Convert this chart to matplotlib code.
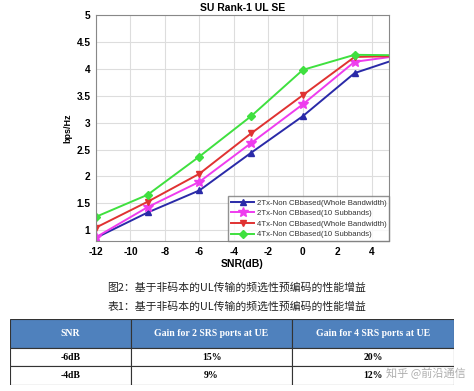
import matplotlib.pyplot as plt
from matplotlib.patches import Rectangle

plt.rcParams["axes.unicode_minus"] = False

# chart data
snr = [-12, -9, -6, -3, 0, 3, 6]
tx2_whole = [0.86, 1.33, 1.74, 2.44, 3.12, 3.92, 4.24]
tx2_sub10 = [0.87, 1.43, 1.90, 2.62, 3.34, 4.13, 4.26]
tx4_whole = [1.05, 1.53, 2.05, 2.80, 3.51, 4.22, 4.24]
tx4_sub10 = [1.25, 1.66, 2.37, 3.12, 3.98, 4.26, 4.25]
labels = ["2Tx-Non CBbased(Whole Bandwidth)", "2Tx-Non CBbased(10 Subbands)",
          "4Tx-Non CBbased(Whole Bandwidth)", "4Tx-Non CBbased(10 Subbands)"]
xticks = [-12, -10, -8, -6, -4, -2, 0, 2, 4]
yticks = [1, 1.5, 2, 2.5, 3, 3.5, 4, 4.5, 5]

# captions and table
caption_fig = "图2：基于非码本的UL传输的频选性预编码的性能增益"
caption_tab = "表1：基于非码本的UL传输的频选性预编码的性能增益"
tab_header = ["SNR", "Gain for 2 SRS ports at UE", "Gain for 4 SRS ports at UE"]
tab_rows = [["-6dB", "15%", "20%"],
            ["-4dB", "9%", "12%"]]

fig = plt.figure(figsize=(4.74, 3.91), dpi=100)
ax = fig.add_axes([96 / 474, 1 - 241 / 391, 293 / 474, 226 / 391])

series = [tx2_whole, tx2_sub10, tx4_whole, tx4_sub10]
colors = ["#2a2aa8", "#ee3cee", "#e03232", "#3fe03f"]
markers = ["^", "*", "v", "D"]
msizes = [5, 7, 5, 4.5]
for ys, c, m, ms, lab in zip(series, colors, markers, msizes, labels):
    ax.plot(snr, ys, color=c, marker=m, markersize=ms, linewidth=1.4, label=lab)

ax.set_xlim(-12, 5)
ax.set_ylim(0.8, 5)
ax.set_xticks(xticks)
ax.set_yticks(yticks)
ax.set_yticklabels(["1", "1.5", "2", "2.5", "3", "3.5", "4", "4.5", "5"])
ax.grid(True, color="#dddddd", linewidth=0.8)
ax.tick_params(length=0, labelsize=7.3, pad=4)
for t in ax.get_xticklabels() + ax.get_yticklabels():
    t.set_fontweight("bold")
    t.set_family("Liberation Sans")
for s in ax.spines.values():
    s.set_color("#888888")
ax.set_title("SU Rank-1 UL SE", fontsize=7.5, fontweight="bold", family="Liberation Sans", pad=3)
ax.set_xlabel("SNR(dB)", fontsize=7.5, fontweight="bold", family="Liberation Sans", labelpad=2)
ax.set_ylabel("bps/Hz", fontsize=6.5, fontweight="bold", family="Liberation Sans", labelpad=3)

leg = ax.legend(loc="lower right", borderaxespad=0, frameon=True,
                fancybox=False, edgecolor="#777777", handlelength=3.0,
                labelspacing=0.4, borderpad=0.35, handletextpad=0.3,
                prop={"family": "Liberation Sans", "size": 5.6})
for t in leg.get_texts():
    t.set_color("#333333")

# captions
cjk = ["Noto Sans CJK SC", "DejaVu Sans"]
fig.text(0.5, 1 - 288 / 391, caption_fig, ha="center", va="center",
         fontsize=7.8, family=cjk, color="#222222")
fig.text(0.5, 1 - 307 / 391, caption_tab, ha="center", va="center",
         fontsize=7.8, family=cjk, color="#222222")

# table
tax = fig.add_axes([10 / 474, 1 - 385 / 391, 444 / 474, 66 / 391])
tax.set_xlim(0, 444)
tax.set_ylim(66, 0)
tax.axis("off")
col_edges = [0, 121, 282, 444]
row_edges = [0, 29, 47, 66]
for i, txt in enumerate(tab_header):
    x0, x1 = col_edges[i], col_edges[i + 1]
    tax.add_patch(Rectangle((x0, row_edges[0]), x1 - x0, row_edges[1] - row_edges[0],
                            facecolor="#4f81bd", edgecolor="#333333", linewidth=0.8))
    tax.text((x0 + x1) / 2, (row_edges[0] + row_edges[1]) / 2, txt, ha="center", va="center",
             color="white", fontsize=7, fontweight="bold", family="Liberation Serif")
for r, row in enumerate(tab_rows):
    y0, y1 = row_edges[r + 1], row_edges[r + 2]
    for i, txt in enumerate(row):
        x0, x1 = col_edges[i], col_edges[i + 1]
        tax.add_patch(Rectangle((x0, y0), x1 - x0, y1 - y0, facecolor="white",
                                edgecolor="#333333", linewidth=0.8))
        tax.text((x0 + x1) / 2, (y0 + y1) / 2, txt, ha="center", va="center",
                 color="black", fontsize=7, fontweight="bold", family="Liberation Serif")

# watermark
fig.text(426 / 474, 1 - 373 / 391, "知乎 @前沿通信", ha="center", va="center",
         fontsize=8, family=cjk, color="#999999", alpha=0.8)

fig.savefig("out.png", dpi=100)
